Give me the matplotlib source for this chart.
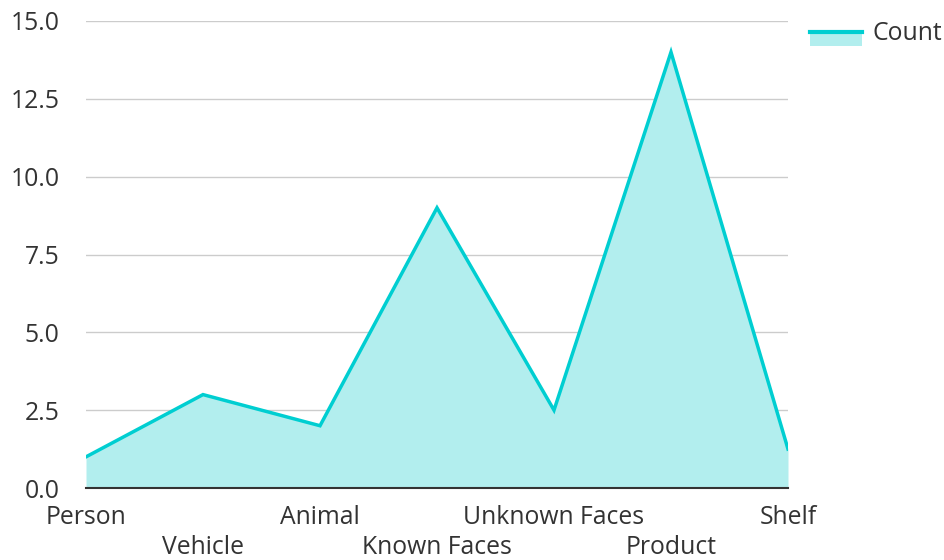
import matplotlib.pyplot as plt
from matplotlib.patches import Rectangle
from matplotlib.lines import Line2D

categories = ["Person", "Vehicle", "Animal", "Known Faces", "Unknown Faces", "Product", "Shelf"]
counts = [1.0, 3.0, 2.0, 9.0, 2.5, 14.0, 1.25]
yticks = [0.0, 2.5, 5.0, 7.5, 10.0, 12.5, 15.0]

line_col = "#00CED1"
fill_col = "#B2EEEE"
txt_col = "#333333"
fs = 17.8

plt.rcParams['font.family'] = ['Open Sans', 'DejaVu Sans']

fig = plt.figure(figsize=(9.44, 5.6), dpi=100)
ax = fig.add_axes([86 / 944, 1 - 488 / 560, (788 - 86) / 944, (488 - 21) / 560])

x = list(range(len(categories)))
ax.fill_between(x, counts, 0, color=fill_col, lw=0, zorder=2)
ax.plot(x, counts, color=line_col, lw=2.5, zorder=3, solid_joinstyle='miter')

ax.set_xlim(0, len(categories) - 1)
ax.set_ylim(0, 15)
ax.set_yticks(yticks)
ax.set_yticklabels([f"{v:.1f}" for v in yticks])
ax.yaxis.grid(True, color="#cccccc", lw=1, zorder=1)
ax.tick_params(axis='y', length=0, pad=19, labelsize=fs, labelcolor=txt_col)

ax.set_xticks(x)
ax.set_xticklabels([])
ax.tick_params(axis='x', length=0)
for i, c in enumerate(categories):
    dy = -30 if i % 2 == 0 else -59
    ax.annotate(c, (i, 0), xytext=(0, dy), textcoords='offset pixels',
                ha='center', va='center', fontsize=fs, color=txt_col)

for s in ["top", "right", "left"]:
    ax.spines[s].set_visible(False)
ax.spines["bottom"].set_color(txt_col)
ax.spines["bottom"].set_linewidth(1.5)
ax.spines["bottom"].set_zorder(4)

# legend
W, H = 944, 560
fig.patches.append(Rectangle((810 / W, 1 - 46 / H), 52 / W, 14 / H, transform=fig.transFigure,
                             facecolor=fill_col, edgecolor='none'))
fig.lines.append(Line2D([810 / W, 862 / W], [1 - 32 / H, 1 - 32 / H], transform=fig.transFigure,
                        color=line_col, lw=3))
fig.text(872 / W, 1 - 34 / H, "Count", ha='left', va='center', fontsize=fs, color=txt_col)

fig.savefig("out.png", dpi=100)
